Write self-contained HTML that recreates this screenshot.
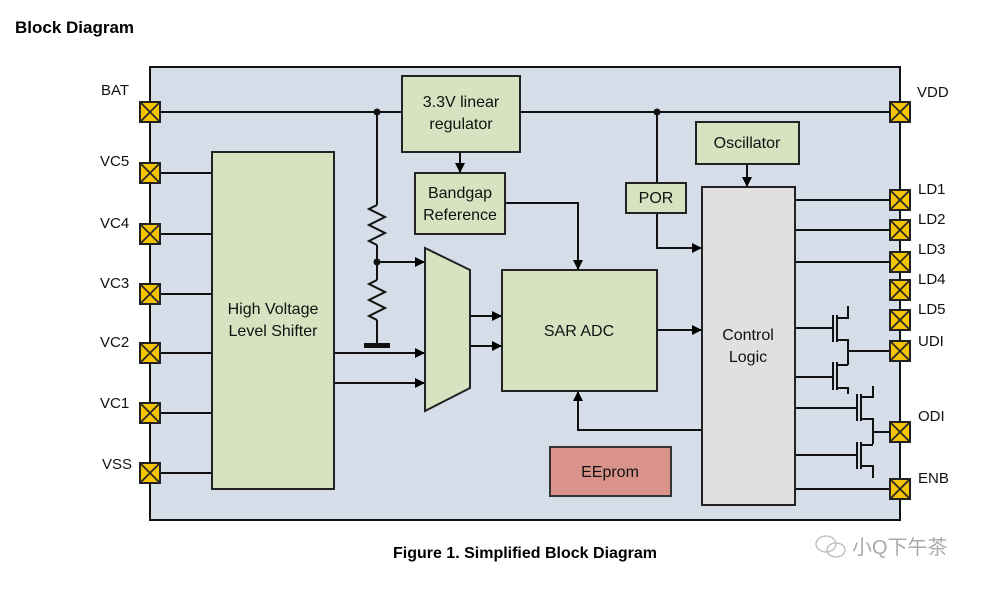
<!DOCTYPE html>
<html><head><meta charset="utf-8"><style>
html,body{margin:0;padding:0;background:#fff;width:999px;height:590px;overflow:hidden}
svg{display:block}
text{font-family:"Liberation Sans","DejaVu Sans",sans-serif}
</style></head><body>
<svg width="999" height="590" viewBox="0 0 999 590" xmlns="http://www.w3.org/2000/svg">
<defs>
<marker id="a" viewBox="0 0 10 10" refX="10" refY="5" markerWidth="10" markerHeight="10" markerUnits="userSpaceOnUse" orient="auto"><path d="M0,0L10,5L0,10z" fill="#000"/></marker>
<g id="pad"><rect x="-10" y="-10" width="20" height="20" fill="#f5c400" stroke="#222" stroke-width="2"/><path d="M-9,-9L9,9M9,-9L-9,9" stroke="#222" stroke-width="1.6"/></g>
</defs>
<text x="15" y="33" font-size="17" font-weight="bold">Block Diagram</text>
<rect x="150" y="67" width="750" height="453" fill="#d5dde9" stroke="#111" stroke-width="2"/>
<g stroke="#111" stroke-width="2" fill="none">
<path d="M160,112H402M520,112H890"/>
<path d="M377,112V205M377,245V280M377,320V345"/>
<path d="M377,205l-8,4l16,8l-16,8l16,8l-16,8l8,4"/>
<path d="M377,280l-8,4l16,8l-16,8l16,8l-16,8l8,4"/>
<path d="M377,262H425" marker-end="url(#a)"/>
<path d="M460,152V173" marker-end="url(#a)"/>
<path d="M505,203H578V270" marker-end="url(#a)"/>
<path d="M657,112V248H702" marker-end="url(#a)"/>
<path d="M747,164V187" marker-end="url(#a)"/>
<path d="M657,330H702" marker-end="url(#a)"/>
<path d="M702,430H578V391" marker-end="url(#a)"/>
<path d="M334,353H425" marker-end="url(#a)"/>
<path d="M334,383H425" marker-end="url(#a)"/>
<path d="M470,316H502" marker-end="url(#a)"/>
<path d="M470,346H502" marker-end="url(#a)"/>
<path d="M160,173H212M160,234H212M160,294H212M160,353H212M160,413H212M160,473H212"/>
<path d="M795,200H890M795,230H890M795,262H890M795,489H890"/>
<path d="M795,328H832M833,315V342M837,315V342M837,318H848V306M837,340H848V365M848,351H890"/>
<path d="M795,377H832M833,362V390M837,362V390M837,365H848M837,388H848V394"/>
<path d="M795,408H857M857,394V421M861,394V421M861,397H873V386M861,419H873V444M873,432H890"/>
<path d="M795,455H857M857,442V469M861,442V469M861,445H873M861,466H873V478"/>
</g>
<rect x="364" y="343" width="26" height="5" fill="#111"/>
<circle cx="377" cy="112" r="3.5" fill="#111"/><circle cx="377" cy="262" r="3.5" fill="#111"/><circle cx="657" cy="112" r="3.5" fill="#111"/>
<g stroke="#222" stroke-width="2">
<rect x="212" y="152" width="122" height="337" fill="#d6e2c0"/>
<rect x="402" y="76" width="118" height="76" fill="#d6e2c0"/>
<rect x="415" y="173" width="90" height="61" fill="#d6e2c0"/>
<rect x="626" y="183" width="60" height="30" fill="#d6e2c0"/>
<rect x="696" y="122" width="103" height="42" fill="#d6e2c0"/>
<rect x="702" y="187" width="93" height="318" fill="#e0e0e0"/>
<rect x="502" y="270" width="155" height="121" fill="#d6e2c0"/>
<rect x="550" y="447" width="121" height="49" fill="#d9938a" stroke="#333"/>
<path d="M425,248L470,270V388L425,411z" fill="#d6e2c0"/>
</g>
<g font-size="16" text-anchor="middle" fill="#111">
<text x="273" y="314">High Voltage</text><text x="273" y="336">Level Shifter</text>
<text x="461" y="107">3.3V linear</text><text x="461" y="129">regulator</text>
<text x="460" y="198">Bandgap</text><text x="460" y="220">Reference</text>
<text x="656" y="203">POR</text>
<text x="747" y="148">Oscillator</text>
<text x="748" y="340">Control</text><text x="748" y="362">Logic</text>
<text x="579" y="336">SAR ADC</text>
<text x="610" y="477">EEprom</text>
</g>
<g font-size="15" fill="#111">
<text x="101" y="95">BAT</text><text x="100" y="166">VC5</text><text x="100" y="228">VC4</text><text x="100" y="288">VC3</text><text x="100" y="347">VC2</text><text x="100" y="408">VC1</text><text x="102" y="469">VSS</text>
<text x="917" y="97">VDD</text><text x="918" y="194">LD1</text><text x="918" y="224">LD2</text><text x="918" y="254">LD3</text><text x="918" y="284">LD4</text><text x="918" y="314">LD5</text><text x="918" y="346">UDI</text><text x="918" y="421">ODI</text><text x="918" y="483">ENB</text>
</g>
<use href="#pad" x="150" y="112"/><use href="#pad" x="150" y="173"/><use href="#pad" x="150" y="234"/><use href="#pad" x="150" y="294"/><use href="#pad" x="150" y="353"/><use href="#pad" x="150" y="413"/><use href="#pad" x="150" y="473"/>
<use href="#pad" x="900" y="112"/><use href="#pad" x="900" y="200"/><use href="#pad" x="900" y="230"/><use href="#pad" x="900" y="262"/><use href="#pad" x="900" y="290"/><use href="#pad" x="900" y="320"/><use href="#pad" x="900" y="351"/><use href="#pad" x="900" y="432"/><use href="#pad" x="900" y="489"/>
<text x="525" y="558" font-size="16" font-weight="bold" text-anchor="middle">Figure 1. Simplified Block Diagram</text>
<g stroke="#bbb" fill="none" stroke-width="1.3"><ellipse cx="826" cy="544" rx="10" ry="8"/><ellipse cx="836" cy="550" rx="9" ry="7"/></g>
<text x="852" y="554" font-size="20" fill="#aaa" font-family="'Liberation Sans','Noto Sans CJK SC',sans-serif">小Q下午茶</text>
</svg>
</body></html>
